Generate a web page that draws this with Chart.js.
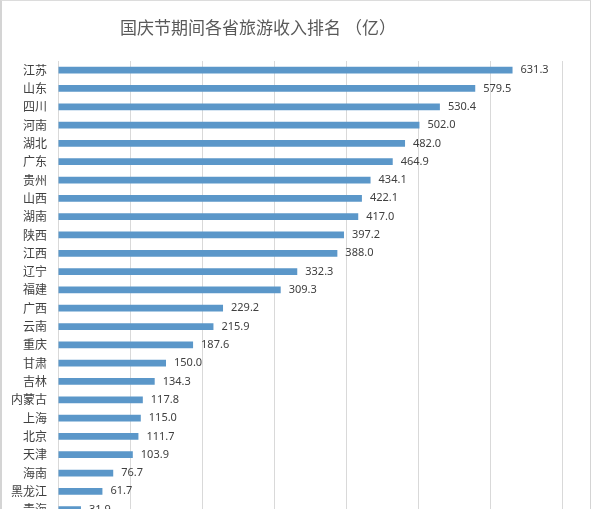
<!DOCTYPE html>
<html lang="zh">
<head>
<meta charset="UTF-8">
<title>国庆节期间各省旅游收入排名</title>
<script src="https://cdn.jsdelivr.net/npm/chart.js"></script>
<style>
    html, body { margin: 0; padding: 0; background: #fff; overflow: hidden; }
    .moldura { position: relative; width: 591px; height: 509px; overflow: hidden; }
    .moldura canvas { position: absolute; left: 0; top: 0; }
    .borda {
        position: absolute; left: 0; top: 0; width: 588px; height: 520px;
        border-left: 2px solid #d4d4d4; border-top: 1px solid #dcdcdc; border-right: 1px solid #d4d4d4;
        pointer-events: none;
    }
</style>
</head>
<body>
<div class="moldura">
    <canvas id="grafico" width="591" height="537"></canvas>
    <div class="borda"></div>
</div>

<script>
    // categorias e valores (亿)
    var provincias = ["江苏", "山东", "四川", "河南", "湖北", "广东", "贵州", "山西", "湖南", "陕西",
        "江西", "辽宁", "福建", "广西", "云南", "重庆", "甘肃", "吉林", "内蒙古", "上海",
        "北京", "天津", "海南", "黑龙江", "青海"];
    var receita = [631.3, 579.5, 530.4, 502.0, 482.0, 464.9, 434.1, 422.1, 417.0, 397.2,
        388.0, 332.3, 309.3, 229.2, 215.9, 187.6, 150.0, 134.3, 117.8, 115.0,
        111.7, 103.9, 76.7, 61.7, 31.9];
    var titulo = "国庆节期间各省旅游收入排名 （亿）";

    var fonteCJK = "'Noto Sans CJK SC', 'Noto Sans', sans-serif";

    // titulo desenhado a mao (no original ele fica um pouco a esquerda do centro)
    var tituloPlugin = {
        id: "tituloPlugin",
        afterDraw: function (chart) {
            var ctx = chart.ctx;
            ctx.save();
            ctx.font = "17px " + fonteCJK;
            ctx.fillStyle = "#595959";
            ctx.textAlign = "center";
            ctx.textBaseline = "middle";
            ctx.fillText(titulo, 258, 28);
            ctx.restore();
        }
    };

    // escreve o valor na ponta de cada barra
    var rotulos = {
        id: "rotulos",
        afterDatasetsDraw: function (chart) {
            var ctx = chart.ctx;
            var meta = chart.getDatasetMeta(0);
            ctx.save();
            ctx.font = "11px 'Noto Sans', sans-serif";
            ctx.fillStyle = "#404040";
            ctx.textAlign = "left";
            ctx.textBaseline = "middle";
            meta.data.forEach(function (barra, i) {
                ctx.fillText(receita[i].toFixed(1), barra.x + 8, barra.y);
            });
            ctx.restore();
        }
    };

    new Chart(document.getElementById("grafico"), {
        type: "bar",
        data: {
            labels: provincias,
            datasets: [{
                data: receita,
                backgroundColor: "#5b97c9",
                borderWidth: 0,
                categoryPercentage: 1,
                barPercentage: 0.37
            }]
        },
        options: {
            indexAxis: "y",
            responsive: false,
            animation: false,
            layout: {
                padding: { left: 0, right: 29, top: 61, bottom: 6 }
            },
            plugins: {
                legend: { display: false },
                tooltip: { enabled: false },
                title: { display: false }
            },
            scales: {
                x: {
                    min: 0,
                    max: 700,
                    ticks: { stepSize: 100, display: false },
                    grid: { color: "#d9d9d9", drawTicks: false },
                    border: { display: false }
                },
                y: {
                    ticks: {
                        color: "#404040",
                        padding: 11,
                        font: { family: fonteCJK, size: 12 }
                    },
                    grid: { display: false, drawTicks: false },
                    border: { display: true, color: "#d9d9d9" }
                }
            }
        },
        plugins: [rotulos, tituloPlugin]
    });
</script>
</body>
</html>
